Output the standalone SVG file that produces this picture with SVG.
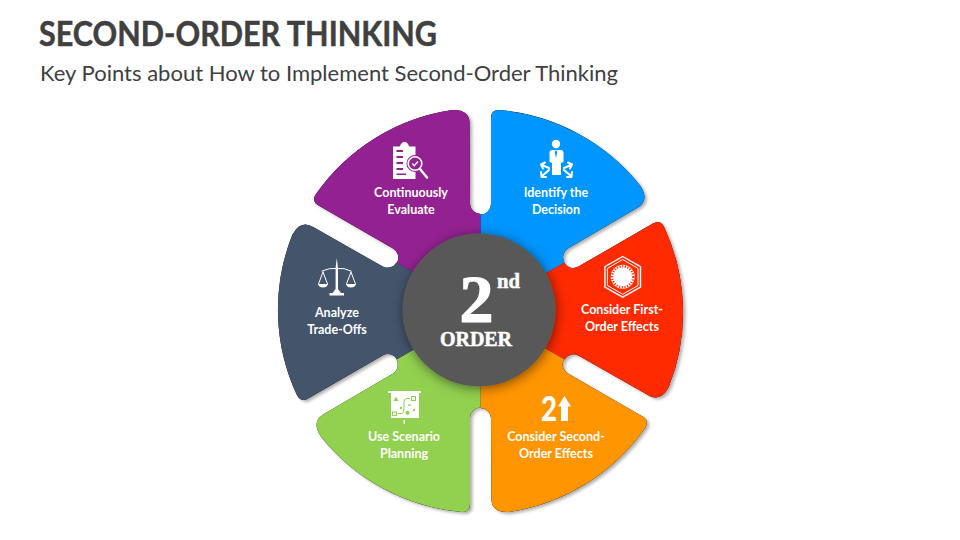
<svg xmlns="http://www.w3.org/2000/svg" xmlns:xlink="http://www.w3.org/1999/xlink" width="960" height="540" viewBox="0 0 960 540">
<style>
.t{font-family:"Lato","Liberation Sans",sans-serif;fill:#404040}
.l{font-family:"Lato","Liberation Sans",sans-serif;font-size:12.5px;font-weight:700;fill:#fff;text-anchor:middle}
.s{font-family:"Liberation Serif","DejaVu Serif",serif;font-weight:700;fill:#fff;stroke:#fff}
.wl{fill:none;stroke:#fff;stroke-linecap:round;stroke-linejoin:round}
</style>
<defs>
<path id="w" d="M480.5 311 L480.5 214.5 A10.5 10.5 0 0 0 491 204 L491 118 Q491 109.5 499.5 110 A202 202 0 0 1 640.5 186 Q649.9 201 637 208 L567.9 248.4 A10.5 10.5 0 0 0 564.5 262.5 Z"/>
<filter id="ds" x="-20%" y="-20%" width="140%" height="140%"><feDropShadow dx="2.5" dy="2" stdDeviation="1.500" flood-color="#000" flood-opacity=".3"/></filter>
<filter id="cs" x="-30%" y="-30%" width="160%" height="160%"><feDropShadow dx="1" dy="2" stdDeviation="6" flood-color="#000" flood-opacity=".5"/></filter>
</defs>
<rect width="960" height="540" fill="#fff"/>
<text class="t" x="39" y="46" font-size="34" font-weight="700" stroke="#404040" stroke-width=".5" textLength="398" lengthAdjust="spacingAndGlyphs">SECOND-ORDER THINKING</text>
<text class="t" x="40" y="81" font-size="22" textLength="578" lengthAdjust="spacingAndGlyphs">Key Points about How to Implement Second-Order Thinking</text>

<g id="shadows" filter="url(#ds)">
<use xlink:href="#w"/><use xlink:href="#w" transform="rotate(60 480.5 311)"/><use xlink:href="#w" transform="rotate(120 480.5 311)"/><use xlink:href="#w" transform="rotate(180 480.5 311)"/><use xlink:href="#w" transform="rotate(240 480.5 311)"/><use xlink:href="#w" transform="rotate(300 480.5 311)"/>
</g>

<g id="node-identify">
<use xlink:href="#w" fill="#0096FF"/>
<circle cx="556" cy="144" r="4.200" fill="#fff"/>
<path d="M552 150 H561 Q563.500 150 563.500 153 V162 L561 163 V175 H552 V163 L549.500 162 V153 Q549.500 150 552 150Z" fill="#fff"/>
<path d="M556 150 L554.800 152 L556 158 L557.200 152Z" fill="#0096FF"/>
<path class="wl" stroke-width="2" d="M549 168 L542 165 M545 162.500 L541 164.500 L543 168.500 M549 170 L542 176 M541 172 L541.500 177 L546 177 M564 168 L571 165 M568 162.500 L572 164.500 L570 168.500 M564 170 L571 176 M572 172 L571.500 177 L567 177"/>
<text class="l" x="556" y="197">Identify the</text>
<text class="l" x="556" y="214">Decision</text>
</g>

<g id="node-first-order">
<use xlink:href="#w" fill="#FF2A00" transform="rotate(60 480.5 311)"/>
<path d="M622.700 256.500 L640.500 266.700 V287 L622.700 297.200 L604.900 287 V266.700Z" fill="none" stroke="#fff" stroke-width="1.400"/>
<path d="M622.700 259.500 L638 268.400 V285.500 L622.700 294.300 L607.400 285.500 V268.400Z" fill="none" stroke="#fff" stroke-width="1"/>
<circle cx="622.700" cy="276.800" r="12" fill="#fff"/>
<circle cx="622.700" cy="276.800" r="10.500" fill="none" stroke="#FF2A00" stroke-width="2.400" stroke-dasharray="1.100 1.600"/>
<text class="l" x="622" y="314">Consider First-</text>
<text class="l" x="622" y="331">Order Effects</text>
</g>

<g id="node-second-order">
<use xlink:href="#w" fill="#FF9500" transform="rotate(120 480.5 311)"/>
<text x="541" y="421" font-family="Lato,'Liberation Sans',sans-serif" font-size="35" font-weight="900" fill="#fff" textLength="16" lengthAdjust="spacingAndGlyphs">2</text>
<path d="M564.500 396 L571 406.500 H568 V421 H561 V406.500 H558Z" fill="#fff"/>
<text class="l" x="556" y="441">Consider Second-</text>
<text class="l" x="556" y="458">Order Effects</text>
</g>

<g id="node-scenario">
<use xlink:href="#w" fill="#92D050" transform="rotate(180 480.5 311)"/>
<rect x="388" y="391" width="33" height="2" fill="#fff"/>
<rect x="391" y="393" width="28" height="25" fill="#fff"/>
<path d="M404.300 420 V424" stroke="#fff" stroke-width="1.600"/>
<path d="M393.500 401 L396 396.500 L398.500 401Z" fill="#92D050"/>
<rect x="411.500" y="396.500" width="4" height="4" fill="none" stroke="#92D050" stroke-width="1"/>
<rect x="392.500" y="412" width="4" height="3.400" fill="none" stroke="#92D050" stroke-width="1"/>
<circle cx="407.500" cy="412.800" r="2" fill="#92D050"/>
<path d="M398 413.500 H402 Q404 413 404 409 V402 Q404 398.500 407 398.500 H410 M400 407 L402 409 M402 407 L400 409 M408.500 404 L410.500 406 M410.500 404 L408.500 406 M413 409 L415 411 M415 409 L413 411" fill="none" stroke="#92D050" stroke-width="1"/>
<text class="l" x="404" y="441">Use Scenario</text>
<text class="l" x="404" y="458">Planning</text>
</g>

<g id="node-tradeoffs">
<use xlink:href="#w" fill="#44546A" transform="rotate(240 480.5 311)"/>
<path d="M336.800 258 L338 268 V289 L341 293 H344 V295.500 H329.500 V293 H332.500 L335.600 289 V268Z" fill="#fff"/>
<path class="wl" stroke-width="1" d="M322 271 Q330 267.500 336.800 268.500 Q344 267.500 351 271 M323 272 L318.500 284 M323 272 L327.500 284 M351 272 L346.500 284 M351 272 L355.500 284"/>
<path d="M318 284 H328 Q327 287.500 323 287.500 Q319 287.500 318 284Z M346 284 H356 Q355 287.500 351 287.500 Q347 287.500 346 284Z" fill="#fff"/>
<text class="l" x="337" y="317">Analyze</text>
<text class="l" x="337" y="334">Trade-Offs</text>
</g>

<g id="node-evaluate">
<use xlink:href="#w" fill="#942192" transform="rotate(300 480.5 311)"/>
<path d="M393 146.500 H400 Q401 142 404.500 142 Q408 142 409 146.500 H415.500 V179 H393Z" fill="#fff"/>
<path d="M396.500 150 H403 V152 H396.500Z M396.500 156 H403 V158 H396.500Z M396.500 162 H403 V164 H396.500Z M396.500 168 H403 V170 H396.500Z M396.500 173.500 H406 V175 H396.500Z" fill="#942192"/>
<circle cx="415" cy="163.500" r="8.500" fill="#942192"/>
<circle cx="415" cy="163.500" r="6.800" fill="none" stroke="#fff" stroke-width="1.600"/>
<path d="M412.300 163.500 L414.300 165.800 L418 161.500" fill="none" stroke="#fff" stroke-width="1.400"/>
<path d="M420 169 L427 177.500" stroke="#fff" stroke-width="2.400" stroke-linecap="round"/>
<text class="l" x="411" y="197">Continuously</text>
<text class="l" x="411" y="214">Evaluate</text>
</g>

<g id="node-center">
<circle cx="479" cy="310" r="76.500" fill="#595959" filter="url(#cs)"/>
<text class="s" x="476.500" y="322" font-size="68" text-anchor="middle" stroke-width="1.200">2</text>
<text class="s" x="497" y="288" font-size="21" stroke-width=".5" textLength="23" lengthAdjust="spacingAndGlyphs">nd</text>
<text class="s" x="440" y="346" font-size="20" stroke-width=".5" textLength="72" lengthAdjust="spacingAndGlyphs">ORDER</text>
</g>
</svg>
